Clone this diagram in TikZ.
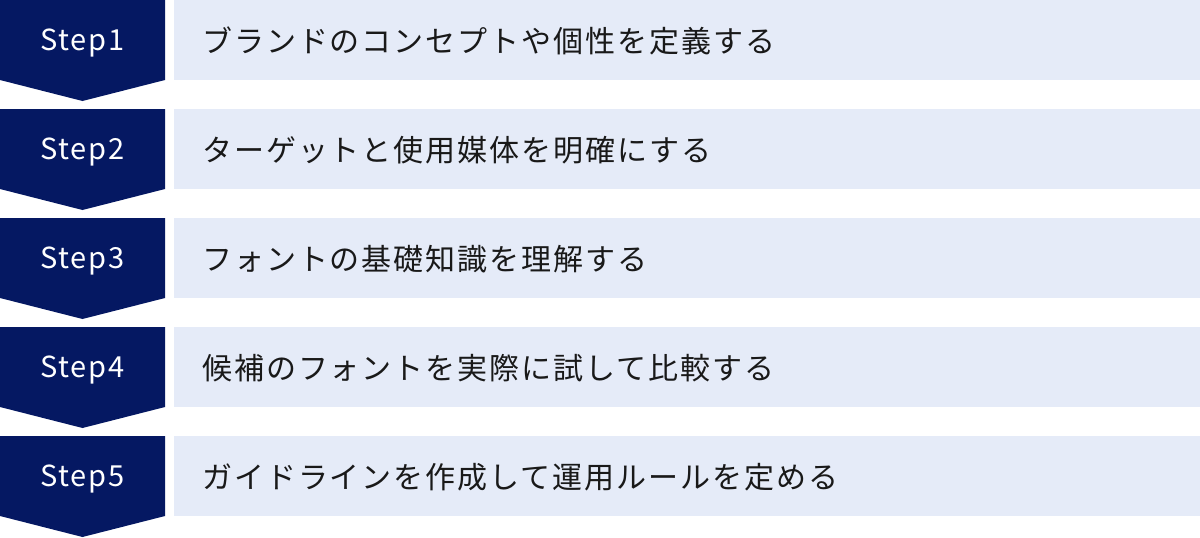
\documentclass[tikz,border=0pt]{standalone}
\usepackage{fontspec}
\setmainfont{Noto Sans CJK JP}
\newfontfamily\stepfont[LetterSpace=6]{Noto Sans CJK JP}
\newfontfamily\jpfont[LetterSpace=6.5]{Noto Sans CJK JP}
\definecolor{navy}{HTML}{051862}
\definecolor{pale}{HTML}{E5EBF8}
\begin{document}
\begin{tikzpicture}[x=1pt,y=-1pt,
  chev/.style={fill=navy,draw=none},
  bar/.style={fill=pale,draw=none},
  steplabel/.style={text=white,font=\stepfont\fontsize{29}{34}\selectfont,inner sep=0pt},
  desc/.style={text=black!90,font=\jpfont\fontsize{30}{36}\selectfont,inner sep=0pt,anchor=west}]
\useasboundingbox (0,0) rectangle (1200,538);
\foreach \i/\t in {1/ブランドのコンセプトや個性を定義する,
                   2/ターゲットと使用媒体を明確にする,
                   3/フォントの基礎知識を理解する,
                   4/候補のフォントを実際に試して比較する,
                   5/ガイドラインを作成して運用ルールを定める}{
  \pgfmathsetmacro{\top}{109*(\i-1)}
  \fill[chev] (0,\top) -- (165,\top) -- (165,\top+80) -- (82.5,\top+101) -- (0,\top+80) -- cycle;
  \fill[bar] (174,\top) rectangle (1200,\top+80);
  \node[steplabel] (s\i) at (82.5,\top+43) {Step\i};
  \node[desc] (d\i) at (202,\top+41) {\t};
}
\end{tikzpicture}
\end{document}
